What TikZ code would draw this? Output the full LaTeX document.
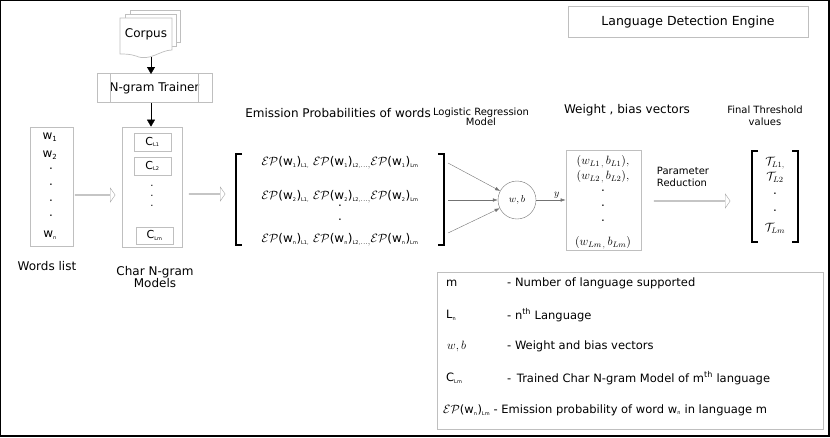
\documentclass[tikz,border=0pt]{standalone}
\usepackage{amsmath}
\usepackage{fontspec}
\setmainfont{DejaVu Sans}
\usetikzlibrary{arrows.meta,shapes.arrows}
\begin{document}
\begin{tikzpicture}[x=1pt,y=-1pt,
  gbox/.style={draw=black!25,line width=0.7pt},
  lbl/.style={font=\fontsize{12}{14}\selectfont,align=center},
  sm/.style={font=\fontsize{10}{12}\selectfont,align=center},
  hol/.style={single arrow,draw=black!35,minimum height=#1,minimum width=14pt,single arrow head extend=3pt,inner sep=0pt,single arrow tip angle=110},
  brk/.style={line width=2.2pt},
  ar/.style={-{Latex[length=5pt,width=3.5pt]},draw=black!55,line width=0.4pt},
  tri/.style={-{Triangle[length=7pt,width=8pt]}, line width=0.4pt}]
\useasboundingbox (0,0) rectangle (830,437);
\draw[line width=1pt] (0.5,0.5) rectangle (829,436);
\draw[line width=1.5pt] (829,0.5)--(829,436)--(0.5,436);
\node[gbox,minimum width=240pt,minimum height=31pt] (title) at (688,22) {\fontsize{12.5}{14}\selectfont Language Detection Engine};
% corpus
\draw[gbox,fill=white] (130,10) rectangle (180,42);
\draw[gbox,fill=white] (125,14) rectangle (176,46);
\draw[gbox,fill=white] (120,18) -- (172,18) -- (172,50) .. controls (160,50) and (150,62) .. (136,56) .. controls (130,54) and (125,54) .. (120,54) -- cycle;
\node[lbl] (corpus) at (146,34) {Corpus};
\coordinate (cb) at (151,57);
\node[gbox,minimum width=115pt,minimum height=29pt] (trainer) at (154.5,88) {};
\node[lbl] at (154.5,88) {N-gram Trainer};
\draw[gbox] (110,74)--(110,103) (198,74)--(198,103);
\draw[tri] (cb) -- (151,74);
\node[gbox,minimum width=60pt,minimum height=120pt] (models) at (152,187) {};
\draw[tri] (151,103) -- (models.north -| 151,0);
\node[gbox,minimum width=37pt,minimum height=18pt,inner sep=0pt,font=\fontsize{11}{12}\selectfont] (c1) at (152.5,142) {C$_{\text{\tiny L1}}$};
\node[gbox,minimum width=37pt,minimum height=18pt,inner sep=0pt,font=\fontsize{11}{12}\selectfont] (c2) at (152.5,166) {C$_{\text{\tiny L2}}$};
\node[sm] at (152,186) {.};\node[sm] at (152,196) {.};\node[sm] at (152,206) {.};
\node[gbox,minimum width=37pt,minimum height=17pt,inner sep=0pt,font=\fontsize{11}{12}\selectfont] (cm) at (154.5,235.5) {C$_{\text{\tiny Lm}}$};
\node[gbox,minimum width=43pt,minimum height=119pt] (words) at (51.5,186.5) {};
\foreach \t/\yy in {{w$_{\text{\scriptsize 1}}$}/137,{w$_{\text{\scriptsize 2}}$}/155,{w$_{\text{\tiny n}}$}/235}
  \node[lbl] at (50,\yy) {\t};
\foreach \yy in {169,185,201,216} \node[lbl] at (51,\yy) {.};
\node[lbl] (wl) at (47,266) {Words list};
\node[lbl,text width=90pt] (cml) at (155,277) {Char N-gram\\[-2pt]Models};
\node[hol=40pt] (a1) at (95,195) {};
\node[hol=36pt] (a2) at (207,194) {};
% matrix
\node[lbl] (emt) at (338,113) {Emission Probabilities of words};
\draw[brk] (242,154)--(236,154)--(236,245)--(242,245);
\draw[brk] (438,154)--(444,154)--(444,245)--(438,245);
\foreach \i/\yy in {1/163,2/197,n/240}
 \node[font=\fontsize{12}{14}\selectfont,inner sep=0pt] at (340,\yy) {$\mathcal{EP}$(w$_{\text{\tiny \i}}$)$_{\text{\tiny L1,}}$ $\mathcal{EP}$(w$_{\text{\tiny \i}}$)$_{\text{\tiny L2,}}$$_{\ldots,}$$\mathcal{EP}$(w$_{\text{\tiny \i}}$)$_{\text{\tiny Lm}}$};
\node[lbl] at (340,206) {.};\node[lbl] at (340,220) {.};
\node[sm] (lrm) at (481,117) {Logistic Regression\\[-2pt]Model};
\node[draw=black!55,circle,minimum size=38pt,inner sep=0pt] (wb) at (517,200) {\fontsize{10}{12}\selectfont$w,b$};
\coordinate (i1) at (448,163);\coordinate (i2) at (448,200);\coordinate (i3) at (448,233);
\draw[ar] (i1) -- (wb);\draw[ar] (i2) -- (wb);\draw[ar] (i3) -- (wb);
\node[gbox,minimum width=75pt,minimum height=100pt] (wv) at (603.5,200) {};
\draw[ar] (wb) -- (wv.west) node[pos=0.7,above,inner sep=1pt,font=\fontsize{10}{12}\selectfont] {$y$};
\node[lbl] (wvt) at (627,110) {Weight , bias vectors};
\node[font=\fontsize{11.5}{13}\selectfont] at (603,162) {$(w_{L1\,,}\,b_{L1}),$};
\node[font=\fontsize{11.5}{13}\selectfont] at (603,177) {$(w_{L2\,,}\,b_{L2}),$};
\foreach \yy in {191,206,221} \node[lbl] at (603,\yy) {.};
\node[font=\fontsize{11.5}{13}\selectfont] at (603,243) {$(w_{Lm\,,}\,b_{Lm})$};
\node[sm,align=left] (pr) at (683,177) {Parameter\\Reduction};
\node[hol=76pt] (a3) at (692,201) {};
\node[sm] (ftv) at (765,116) {Final Threshold\\values};
\draw[brk] (758,151)--(752,151)--(752,242)--(758,242);
\draw[brk] (792,151)--(798,151)--(798,242)--(792,242);
\node[font=\fontsize{11.5}{13}\selectfont] at (775,163) {$\mathcal{T}_{L1,}$};
\node[font=\fontsize{11.5}{13}\selectfont] at (775,177) {$\mathcal{T}_{L2}$};
\node[lbl] at (775,194) {.};\node[lbl] at (775,211) {.};
\node[font=\fontsize{11.5}{13}\selectfont] at (775,228) {$\mathcal{T}_{Lm}$};
% legend
\node[gbox,minimum width=386pt,minimum height=157pt] (leg) at (630,350.5) {};
\begin{scope}[every node/.style={anchor=west,font=\fontsize{11.5}{13}\selectfont,inner sep=0pt}]
\node at (446,283) {m};\node at (507,283) {- Number of language supported};
\node at (446,315) {L$_{\text{\tiny n}}$};\node at (507,315) {- n$^{\text{th}}$ Language};
\node at (447,346) {$w,b$};\node at (507,346) {- Weight and bias vectors};
\node at (446,378) {C$_{\text{\tiny Lm}}$};\node at (507,378) {-\, Trained Char N-gram Model of m$^{\text{th}}$ language};
\node (ep) at (443,410) {$\mathcal{EP}$(w$_{\text{\tiny n}}$)$_{\text{\tiny Lm}}$};\node at ([xshift=3pt]ep.east) {- Emission probability of word w$_{\text{\tiny n}}$ in language m};
\end{scope}
\end{tikzpicture}
\end{document}
